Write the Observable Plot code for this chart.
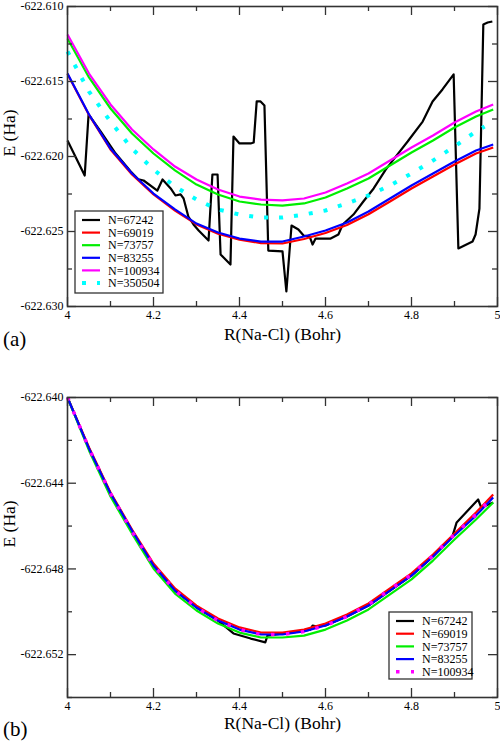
<!DOCTYPE html>
<html><head><meta charset="utf-8">
<script src="https://cdn.jsdelivr.net/npm/d3@7"></script>
<script src="https://cdn.jsdelivr.net/npm/@observablehq/plot@0.6"></script>
<style>
body{margin:0;background:#fff;}
#wrap{position:relative;width:500px;height:744px;font-family:"Liberation Serif","Times New Roman",serif;}
#wrap svg{display:block;}
#overlay{position:absolute;left:0;top:0;pointer-events:none;}
</style></head><body><div id="wrap"></div>
<script>
// ---------- shared axis ticks ----------
const xTicks = [4, 4.2, 4.4, 4.6, 4.8, 5];
const xMinor = [4.1, 4.3, 4.5, 4.7, 4.9];
const yTicksA = [-622.630, -622.625, -622.620, -622.615, -622.610];
const yMinorA = [-622.6275, -622.6225, -622.6175, -622.6125];
const yTicksB = [-622.652, -622.648, -622.644, -622.640];
const yMinorB = [-622.654, -622.650, -622.646, -622.642];
const xLabel = "R(Na-Cl) (Bohr)";
const yLabel = "E (Ha)";
const panelLabels = ["(a)", "(b)"];

const names = ["N=67242", "N=69019", "N=73757", "N=83255", "N=100934", "N=350504"];
const colors = ["#000000", "#ff0000", "#00ee00", "#0000ff", "#ff00ff", "#00ffff"];

// ---------- panel (a) ----------
const rA = [4.00, 4.05, 4.10, 4.15, 4.20, 4.25, 4.30, 4.35, 4.40, 4.45, 4.50, 4.55, 4.60, 4.65, 4.70, 4.75, 4.80, 4.85, 4.90, 4.95, 4.99];
const eA_69019 = [-622.61450, -622.61723, -622.61953, -622.62120, -622.62253, -622.62360, -622.62453, -622.62515, -622.62555, -622.62577, -622.62580, -622.62550, -622.62510, -622.62457, -622.62385, -622.62300, -622.62213, -622.62133, -622.62053, -622.61980, -622.61940];
const eA_73757 = [-622.61213, -622.61473, -622.61680, -622.61847, -622.61980, -622.62093, -622.62187, -622.62253, -622.62300, -622.62320, -622.62327, -622.62313, -622.62273, -622.62213, -622.62147, -622.62060, -622.61973, -622.61893, -622.61807, -622.61733, -622.61687];
const eA_83255 = [-622.61447, -622.61720, -622.61947, -622.62113, -622.62247, -622.62353, -622.62447, -622.62507, -622.62547, -622.62567, -622.62567, -622.62533, -622.62493, -622.62440, -622.62367, -622.62280, -622.62193, -622.62113, -622.62033, -622.61960, -622.61920];
const eA_100934 = [-622.61187, -622.61447, -622.61653, -622.61820, -622.61953, -622.62067, -622.62153, -622.62220, -622.62267, -622.62287, -622.62293, -622.62280, -622.62240, -622.62180, -622.62113, -622.62027, -622.61940, -622.61860, -622.61773, -622.61700, -622.61653];
const rA_350504 = [4.00, 4.05, 4.10, 4.15, 4.20, 4.25, 4.30, 4.35, 4.40, 4.45, 4.50, 4.55, 4.60, 4.65, 4.70, 4.75, 4.80, 4.85, 4.90, 4.95, 4.97];
const eA_350504 = [-622.61300, -622.61567, -622.61767, -622.61947, -622.62087, -622.62200, -622.62287, -622.62353, -622.62387, -622.62407, -622.62407, -622.62387, -622.62360, -622.62313, -622.62260, -622.62193, -622.62113, -622.62027, -622.61933, -622.61833, -622.61800];
const rA_67242 = [4.000, 4.040, 4.049, 4.077, 4.112, 4.147, 4.165, 4.177, 4.209, 4.221, 4.240, 4.251, 4.263, 4.270, 4.281, 4.293, 4.305, 4.328, 4.337, 4.349, 4.356, 4.379, 4.386, 4.400, 4.426, 4.433, 4.440, 4.449, 4.458, 4.467, 4.500, 4.509, 4.521, 4.537, 4.549, 4.563, 4.570, 4.577, 4.612, 4.630, 4.640, 4.665, 4.688, 4.712, 4.740, 4.767, 4.791, 4.826, 4.849, 4.872, 4.898, 4.909, 4.942, 4.949, 4.958, 4.967, 4.977, 4.988];
const eA_67242 = [-622.61893, -622.62127, -622.61720, -622.61833, -622.61980, -622.62100, -622.62153, -622.62160, -622.62227, -622.62153, -622.62213, -622.62260, -622.62253, -622.62280, -622.62400, -622.62453, -622.62493, -622.62560, -622.62120, -622.62120, -622.62653, -622.62720, -622.61867, -622.61913, -622.61913, -622.61907, -622.61633, -622.61633, -622.61660, -622.62627, -622.62633, -622.62900, -622.62460, -622.62487, -622.62527, -622.62533, -622.62587, -622.62547, -622.62547, -622.62520, -622.62453, -622.62387, -622.62300, -622.62213, -622.62087, -622.61987, -622.61900, -622.61767, -622.61633, -622.61553, -622.61453, -622.62613, -622.62567, -622.62520, -622.62347, -622.61120, -622.61107, -622.61100];

// ---------- panel (b) ----------
const rB = rA;
const eB_69019 = [-622.64000, -622.64233, -622.64443, -622.64616, -622.64775, -622.64891, -622.64971, -622.65031, -622.65073, -622.65097, -622.65097, -622.65083, -622.65055, -622.65013, -622.64961, -622.64891, -622.64821, -622.64733, -622.64635, -622.64537, -622.64453];
const eB_73757 = [-622.64000, -622.64247, -622.64462, -622.64635, -622.64798, -622.64915, -622.64994, -622.65055, -622.65097, -622.65120, -622.65120, -622.65111, -622.65083, -622.65041, -622.64989, -622.64919, -622.64849, -622.64761, -622.64663, -622.64569, -622.64490];
const eB_83255 = [-622.64000, -622.64238, -622.64448, -622.64621, -622.64784, -622.64901, -622.64980, -622.65041, -622.65083, -622.65106, -622.65106, -622.65092, -622.65064, -622.65022, -622.64971, -622.64901, -622.64831, -622.64742, -622.64644, -622.64551, -622.64467];
const eB_100934 = [-622.64000, -622.64238, -622.64448, -622.64626, -622.64784, -622.64901, -622.64980, -622.65041, -622.65083, -622.65106, -622.65106, -622.65092, -622.65064, -622.65022, -622.64966, -622.64896, -622.64826, -622.64737, -622.64639, -622.64546, -622.64462];
const rB_67242 = [4.00, 4.05, 4.10, 4.15, 4.20, 4.25, 4.30, 4.35, 4.386, 4.426, 4.460, 4.465, 4.502, 4.542, 4.565, 4.570, 4.580, 4.60, 4.65, 4.70, 4.75, 4.80, 4.85, 4.895, 4.905, 4.955, 4.962, 4.99];
const eB_67242 = [-622.64000, -622.64238, -622.64448, -622.64621, -622.64784, -622.64901, -622.64980, -622.65041, -622.65101, -622.65125, -622.65143, -622.65111, -622.65101, -622.65092, -622.65083, -622.65064, -622.65069, -622.65064, -622.65022, -622.64971, -622.64901, -622.64831, -622.64742, -622.64649, -622.64583, -622.64476, -622.64513, -622.64490];

// ---------- build ----------
const FONT = '"Liberation Serif","Times New Roman",serif';
const toRows = (rs, es) => rs.map((r, i) => ({R: r, E: es[i]}));

const seriesA = [
  {i: 0, data: toRows(rA_67242, eA_67242)},
  {i: 1, data: toRows(rA, eA_69019)},
  {i: 2, data: toRows(rA, eA_73757)},
  {i: 3, data: toRows(rA, eA_83255)},
  {i: 4, data: toRows(rA, eA_100934)},
  {i: 5, data: toRows(rA_350504, eA_350504), dash: "4,11", width: 4}
];
const seriesB = [
  {i: 0, data: toRows(rB_67242, eB_67242)},
  {i: 1, data: toRows(rB, eB_69019)},
  {i: 2, data: toRows(rB, eB_73757)},
  {i: 3, data: toRows(rB, eB_83255)},
  {i: 4, data: toRows(rB, eB_100934), dash: "3.5,11.5", width: 3.5}
];

function panel({height, mt, mb, yDomain, yTicks, yMinor, series, xlabOff}) {
  const ih = height - mt - mb, iw = 430;
  const tickC = "#333";
  return Plot.plot({
    width: 500, height, marginTop: mt, marginBottom: mb, marginLeft: 67, marginRight: 3,
    style: {fontFamily: FONT, fontSize: "12px", background: "white", color: "#000"},
    x: {domain: [4, 5]},
    y: {domain: yDomain},
    marks: [
      ...series.map(s => Plot.line(s.data, {
        x: "R", y: "E", stroke: colors[s.i], strokeWidth: s.width || 2.2,
        strokeDasharray: s.dash, strokeLinecap: "butt", curve: "linear"
      })),
      Plot.ruleX(xTicks, {insetTop: ih - 9, stroke: tickC, strokeWidth: 1.3}),
      Plot.ruleX(xTicks, {insetBottom: ih - 9, stroke: tickC, strokeWidth: 1.3}),
      Plot.ruleX(xMinor, {insetTop: ih - 5, stroke: tickC, strokeWidth: 1.3}),
      Plot.ruleX(xMinor, {insetBottom: ih - 5, stroke: tickC, strokeWidth: 1.3}),
      Plot.ruleY(yTicks, {insetRight: iw - 9, stroke: tickC, strokeWidth: 1.3}),
      Plot.ruleY(yTicks, {insetLeft: iw - 9, stroke: tickC, strokeWidth: 1.3}),
      Plot.ruleY(yMinor, {insetRight: iw - 5, stroke: tickC, strokeWidth: 1.3}),
      Plot.ruleY(yMinor, {insetLeft: iw - 5, stroke: tickC, strokeWidth: 1.3}),
      Plot.frame({stroke: tickC, strokeWidth: 1.6}),
      Plot.axisX({ticks: xTicks, tickSize: 0, tickPadding: 4, tickFormat: d => String(+d.toFixed(1)), label: null}),
      Plot.axisY({ticks: yTicks, tickSize: 0, tickPadding: 4, tickFormat: d => d.toFixed(3), label: null}),
      Plot.text([xLabel], {text: d => d, frameAnchor: "bottom", dy: xlabOff, lineAnchor: "bottom", fontSize: 17.5, fill: "#000"}),
      Plot.text([yLabel], {text: d => d, frameAnchor: "left", dx: -53, rotate: -90, lineAnchor: "bottom", fontSize: 17.5, fill: "#000"})
    ]
  });
}

const wrap = document.getElementById("wrap");
wrap.appendChild(panel({height: 360, mt: 6, mb: 54, yDomain: [-622.630, -622.610], yTicks: yTicksA, yMinor: yMinorA, series: seriesA, xlabOff: 33}));
wrap.appendChild(panel({height: 384, mt: 37, mb: 47, yDomain: [-622.654, -622.640], yTicks: yTicksB, yMinor: yMinorB, series: seriesB, xlabOff: 31}));

// ---------- overlay: legends and panel letters ----------
const ov = d3.select(wrap).append("svg").attr("id", "overlay").attr("width", 500).attr("height", 744)
  .style("font-family", FONT);
function legend(x0, y0, w, h, step, series) {
  const g = ov.append("g");
  g.append("rect").attr("x", x0).attr("y", y0).attr("width", w).attr("height", h)
    .attr("fill", "white").attr("stroke", "#333").attr("stroke-width", 1.3);
  series.forEach((s, k) => {
    const y = y0 + 9 + k * step;
    g.append("line").attr("x1", x0 + 7).attr("x2", x0 + 25).attr("y1", y).attr("y2", y)
      .attr("stroke", colors[s.i]).attr("stroke-width", s.width || 2.2)
      .attr("stroke-dasharray", s.dash || null);
    g.append("text").attr("x", x0 + 33).attr("y", y).attr("dy", "0.35em")
      .attr("font-size", 12).text(names[s.i]);
  });
}
legend(75, 211, 88, 82, 12.6, seriesA);
legend(389, 612, 83, 67, 12.7, seriesB);
ov.append("text").attr("x", 3).attr("y", 346).attr("font-size", 21).text(panelLabels[0]);
ov.append("text").attr("x", 3).attr("y", 736).attr("font-size", 21).text(panelLabels[1]);
</script></body></html>
